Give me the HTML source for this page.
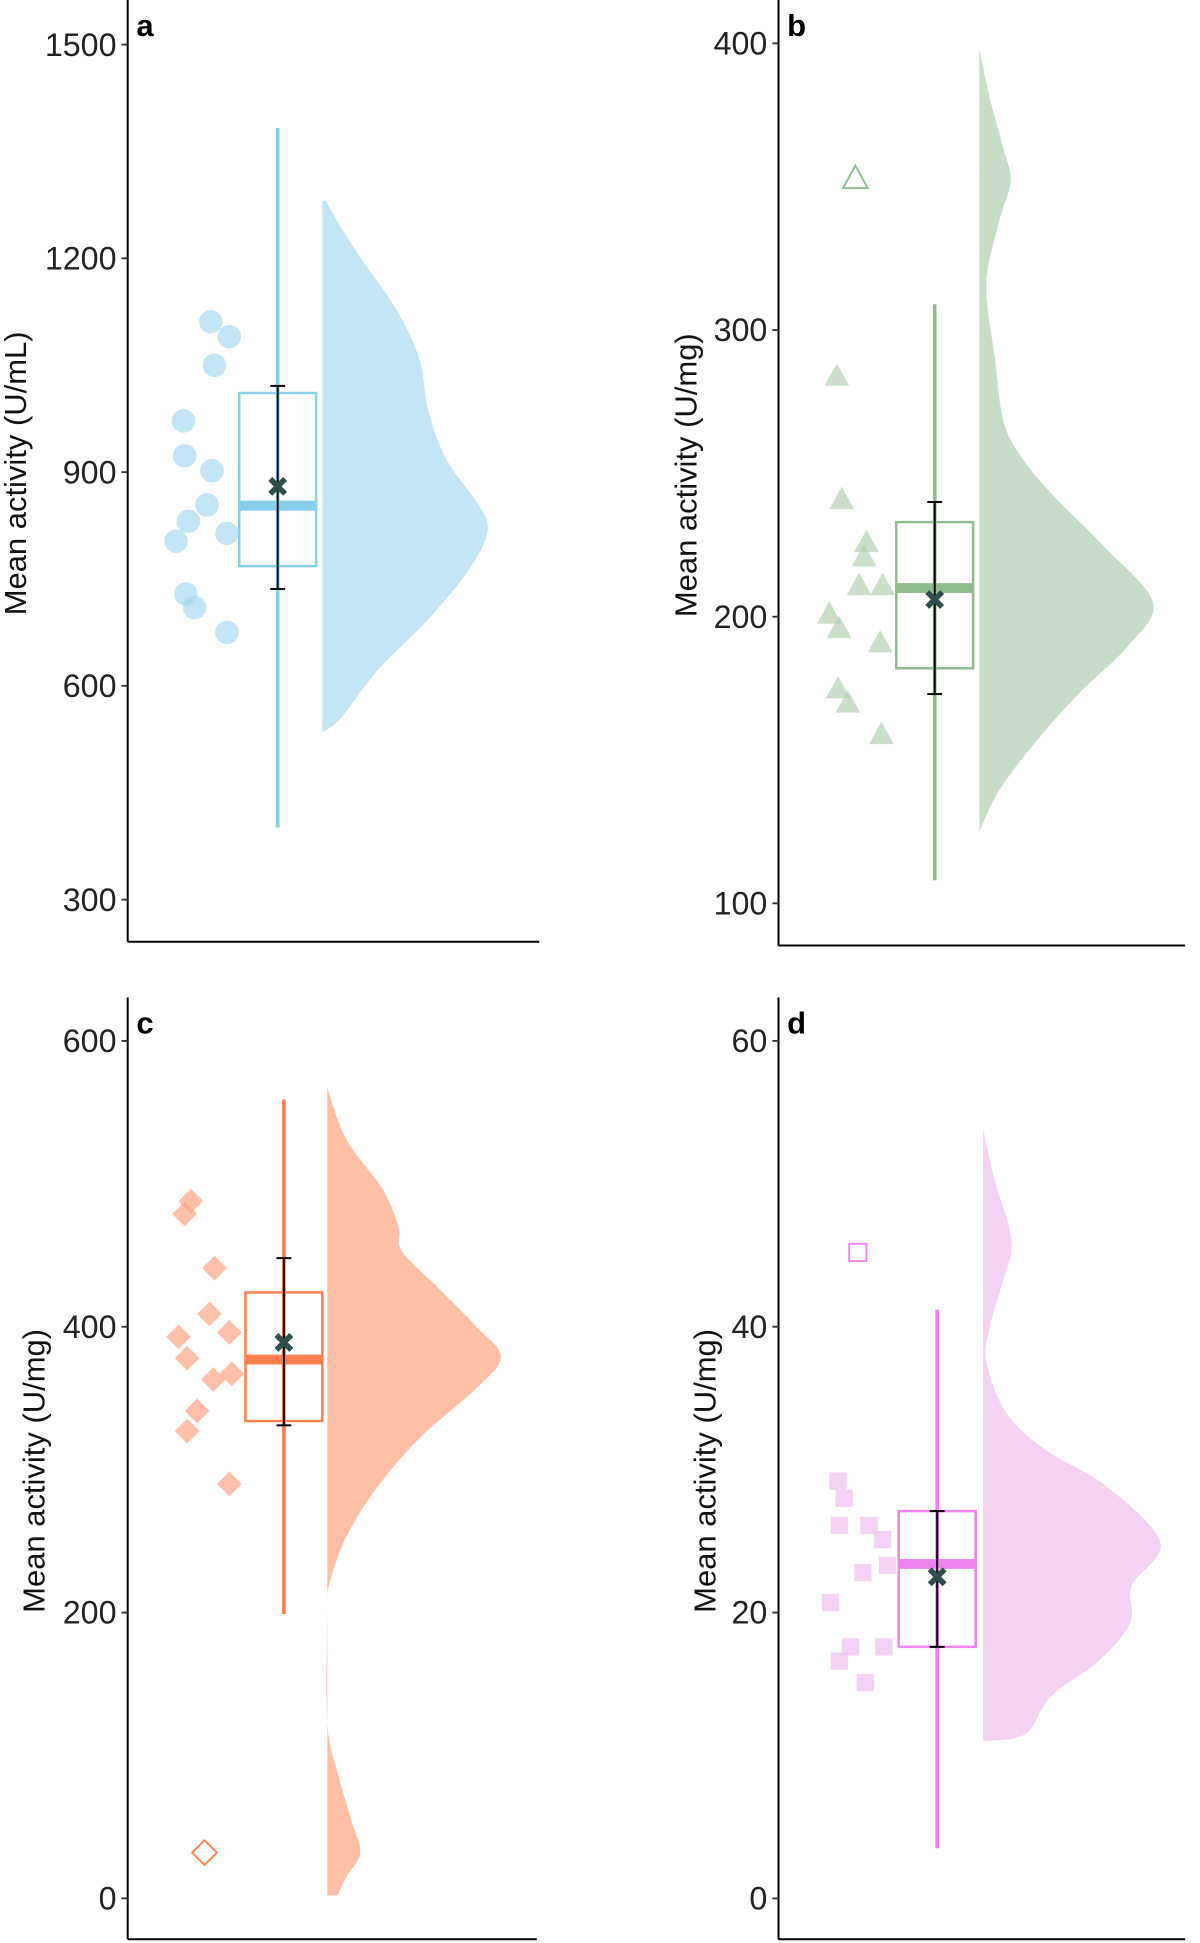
<!DOCTYPE html>
<html><head><meta charset="utf-8"><style>
html,body{margin:0;padding:0;background:#fff;}
svg{display:block;}
text{font-family:"Liberation Sans",sans-serif;}
</style></head><body>
<svg id="chart" width="1200" height="1943" viewBox="0 0 968 1568" preserveAspectRatio="none" xmlns="http://www.w3.org/2000/svg"></svg>
<script>
// ---- Panel a data ----
const aTicks = [300, 600, 900, 1200, 1500];
const aPoints = [1111, 1090, 1050, 972, 923, 902, 854, 831, 814, 803, 729, 710, 675];
const aOutliers = [];
const aBox = [768, 853, 1011];      // q1, median, q3
const aWhisker = [401, 1383];
const aMean = 880, aErr = [736, 1021];
const aViolinV = [1281,1215,1128,1058,989,919,850,815,763,693,623,554,535];
const aViolinD = [0.02,0.19,0.45,0.59,0.64,0.75,0.96,1,0.89,0.64,0.34,0.11,0];
// ---- Panel b data ----
const bTicks = [100, 200, 300, 400];
const bPoints = [284, 241, 226, 221, 211, 211, 201, 196, 191, 175, 170, 159];
const bOutliers = [353];
const bBox = [182, 210, 233];
const bWhisker = [108, 309];
const bMean = 206, bErr = [173, 240];
const bViolinV = [398,381,363,352,337,316,290,268,255,242,225,205,190,173,156,139,125];
const bViolinD = [0,0.06,0.14,0.18,0.11,0.04,0.09,0.14,0.25,0.43,0.71,1,0.86,0.57,0.32,0.11,0];
// ---- Panel c data ----
const cTicks = [0, 200, 400, 600];
const cPoints = [488, 479, 441, 409, 393, 396, 378, 367, 363, 341, 327, 290];
const cOutliers = [32];
const cBox = [334, 377, 424];
const cWhisker = [199, 559];
const cMean = 389, cErr = [331, 448];
const cViolinV = [567,531,496,470,453,427,400,379,357,323,288,253,219,201,123,88,54,32,15,2];
const cViolinD = [0,0.11,0.32,0.41,0.43,0.64,0.86,1,0.86,0.54,0.29,0.11,0.01,0,0,0.06,0.14,0.19,0.11,0.06];
// ---- Panel d data ----
const dTicks = [0, 20, 40, 60];
const dPoints = [29.2, 28.0, 26.1, 26.1, 25.1, 22.8, 23.3, 20.7, 17.6, 17.6, 16.6, 15.1];
const dOutliers = [45.2];
const dBox = [17.6, 23.4, 27.1];
const dWhisker = [3.5, 41.2];
const dMean = 22.5, dErr = [17.6, 27.1];
const dViolinV = [53.9,50.5,46.1,43.5,40.1,37.5,34,31.4,28.8,24.9,21.9,19.3,16.7,14.1,11.5,11.0];
const dViolinD = [0,0.06,0.16,0.12,0.04,0.02,0.13,0.35,0.7,1,0.84,0.83,0.66,0.38,0.24,0];

const NS = "http://www.w3.org/2000/svg";
const svg = document.getElementById('chart');
function el(tag, attrs, parent){const e=document.createElementNS(NS,tag);for(const k in attrs)e.setAttribute(k,attrs[k]);(parent||svg).appendChild(e);return e;}

function panel(cfg){
  const g = el('g',{});
  
  
  const y = v => cfg.yTop + (cfg.vTop - v) * (cfg.yBot - cfg.yTop) / (cfg.vTop - cfg.vBot);
  const ya = el('line',{x1:cfg.ax,y1:cfg.axTop,x2:cfg.ax,y2:cfg.axBot,stroke:'#000','stroke-width':1.6},g);
  
  
  const xa = el('line',{x1:cfg.ax,y1:cfg.axBot,x2:cfg.axRight,y2:cfg.axBot,stroke:'#000','stroke-width':1.6},g);
  
  
  cfg.ticks.forEach(t=>{
    el('line',{x1:cfg.ax-5,y1:y(t),x2:cfg.ax,y2:y(t),stroke:'#333','stroke-width':1.5},g);
    const tx = el('text',{x:cfg.ax-9,y:y(t)+9,'text-anchor':'end','font-size':26,fill:'#222'},g);
    tx.textContent = t;
    
    
  });
  const yl = el('text',{transform:`translate(${cfg.ylx},${(cfg.axTop+cfg.axBot)/2+2}) rotate(-90)`,'text-anchor':'middle','font-size':25,fill:'#111'},g);
  yl.textContent = cfg.ylabel;
  
  
  const lt = el('text',{x:cfg.ax+7,y:cfg.axTop+29,'font-size':25,'font-weight':'bold',fill:'#000'},g);
  lt.textContent = cfg.letter;
  
  
  const pts = cfg.vv.map((v,i)=>[cfg.vx + cfg.vd[i]*cfg.vmax, y(v)]);
  let d = `M${cfg.vx},${pts[0][1]} L${pts[0][0]},${pts[0][1]}`;
  for(let i=0;i<pts.length-1;i++){
    const p0=pts[Math.max(i-1,0)],p1=pts[i],p2=pts[i+1],p3=pts[Math.min(i+2,pts.length-1)];
    const c1=[p1[0]+(p2[0]-p0[0])/6,p1[1]+(p2[1]-p0[1])/6];
    const c2=[p2[0]-(p3[0]-p1[0])/6,p2[1]-(p3[1]-p1[1])/6];
    d+=` C${c1[0]},${c1[1]} ${c2[0]},${c2[1]} ${p2[0]},${p2[1]}`;
  }
  d+=` L${cfg.vx},${pts[pts.length-1][1]} Z`;
  const vio = el('path',{d:d,fill:cfg.fill},g);
  
  
  const wl = el('line',{x1:cfg.bc,y1:y(cfg.whisker[0]),x2:cfg.bc,y2:y(cfg.whisker[1]),stroke:cfg.col,'stroke-width':3},g);
  
  
  const bx = el('rect',{x:cfg.bc-31,y:y(cfg.box[2]),width:62,height:y(cfg.box[0])-y(cfg.box[2]),fill:'#fff',stroke:cfg.col,'stroke-width':2},g);
  
  
  el('line',{x1:cfg.bc,y1:y(cfg.box[2]),x2:cfg.bc,y2:y(cfg.box[0]),stroke:cfg.col,'stroke-width':3},g);
  const md = el('line',{x1:cfg.bc-31,y1:y(cfg.box[1]),x2:cfg.bc+31,y2:y(cfg.box[1]),stroke:cfg.col,'stroke-width':8},g);
  
  
  const eb = el('g',{},g);
  
  
  el('line',{x1:cfg.bc,y1:y(cfg.err[0]),x2:cfg.bc,y2:y(cfg.err[1]),stroke:'#000','stroke-width':1.6},eb);
  [cfg.err[0],cfg.err[1]].forEach(v=>el('line',{x1:cfg.bc-6,y1:y(v),x2:cfg.bc+6,y2:y(v),stroke:'#000','stroke-width':1.6},eb));
  const my=y(cfg.mean);
  const mm = el('path',{d:`M${cfg.bc-6},${my-6} L${cfg.bc+6},${my+6} M${cfg.bc+6},${my-6} L${cfg.bc-6},${my+6}`,stroke:'#2f4f4f','stroke-width':4.5},g);
  
  
  function marker(cx,cy,open){
    let m;
    const st = open?{fill:'none',stroke:cfg.col,'stroke-width':1.5}:{fill:cfg.pfill,'fill-opacity':0.7};
    if(cfg.shape==='circle') m=el('circle',Object.assign({cx:cx,cy:cy,r:9.5},st),g);
    else if(cfg.shape==='tri') m=el('path',Object.assign({d:`M${cx},${cy-10} L${cx+10},${cy+8} L${cx-10},${cy+8} Z`},st),g);
    else if(cfg.shape==='diamond') m=el('path',Object.assign({d:`M${cx},${cy-10} L${cx+10},${cy} L${cx},${cy+10} L${cx-10},${cy} Z`},st),g);
    else m=el('rect',Object.assign({x:cx-7,y:cy-7,width:14,height:14},st),g);
    
    
  }
  cfg.points.forEach((v,i)=>marker(cfg.px[i%cfg.px.length],y(v),false));
  cfg.outliers.forEach(v=>marker(cfg.ox,y(v),true));
}

panel({letter:'a',ylabel:'Mean activity (U/mL)',ticks:aTicks,vTop:1500,vBot:300,yTop:36,yBot:726,ax:103,axTop:0,axBot:760,axRight:435,ylx:21,
  vv:aViolinV,vd:aViolinD,vx:260,vmax:133,fill:'#c3e4f3',col:'#87ceeb',pfill:'#a8d8ef',bc:224,
  box:aBox,whisker:aWhisker,mean:aMean,err:aErr,shape:'circle',points:aPoints,outliers:aOutliers,ox:170,
  px:[170,185,173,148,149,171,167,152,183,142,150,157,183]});
panel({letter:'b',ylabel:'Mean activity (U/mg)',ticks:bTicks,vTop:400,vBot:100,yTop:35,yBot:729,ax:628,axTop:0,axBot:763,axRight:956,ylx:562,
  vv:bViolinV,vd:bViolinD,vx:790,vmax:140,fill:'#c8ddc8',col:'#8fbc8f',pfill:'#b3d0b3',bc:754,
  box:bBox,whisker:bWhisker,mean:bMean,err:bErr,shape:'tri',points:bPoints,outliers:bOutliers,ox:690,
  px:[675,679,699,697,712,693,669,677,710,676,684,711]});
panel({letter:'c',ylabel:'Mean activity (U/mg)',ticks:cTicks,vTop:600,vBot:0,yTop:840,yBot:1532,ax:103,axTop:805,axBot:1565,axRight:433,ylx:36,
  vv:cViolinV,vd:cViolinD,vx:264,vmax:140,fill:'#ffbfa5',col:'#ff7f50',pfill:'#ffa584',bc:229,
  box:cBox,whisker:cWhisker,mean:cMean,err:cErr,shape:'diamond',points:cPoints,outliers:cOutliers,ox:165,
  px:[154,149,173,169,144,185,151,187,172,159,151,185]});
panel({letter:'d',ylabel:'Mean activity (U/mg)',ticks:dTicks,vTop:60,vBot:0,yTop:840,yBot:1532,ax:628,axTop:805,axBot:1565,axRight:956,ylx:577,
  vv:dViolinV,vd:dViolinD,vx:793,vmax:143,fill:'#f4d3f2',col:'#ee82ee',pfill:'#f0bfee',bc:756,
  box:dBox,whisker:dWhisker,mean:dMean,err:dErr,shape:'square',points:dPoints,outliers:dOutliers,ox:692,
  px:[676,681,677,701,712,696,716,670,686,713,677,698]});
</script>
</body></html>
